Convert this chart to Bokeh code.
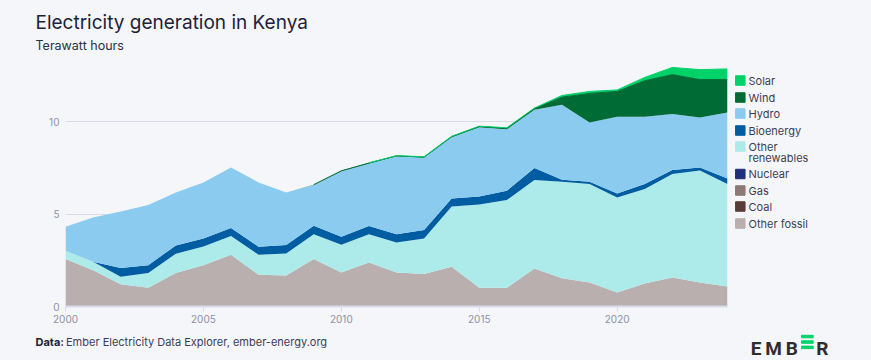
import math
from bokeh.plotting import figure
from bokeh.models import FixedTicker, ColumnDataSource, Range1d
from bokeh.layouts import column, row
from bokeh.core.properties import value
from bokeh.embed import file_html
from bokeh.resources import INLINE

years = list(range(2000, 2025))
other_fossil = [2.57, 1.97, 1.21, 1.01, 1.81, 2.24, 2.80, 1.72, 1.68, 2.57, 1.84, 2.39, 1.84,
                1.76, 2.15, 1.01, 1.01, 2.06, 1.53, 1.30, 0.76, 1.25, 1.57, 1.30, 1.08]
coal = [0.0] * 25
gas = [0.0] * 25
nuclear = [0.0] * 25
other_renewables = [0.45, 0.45, 0.40, 0.80, 1.05, 1.01, 1.02, 1.08, 1.19, 1.35, 1.50, 1.53, 1.63,
                    1.93, 3.27, 4.52, 4.76, 4.79, 5.23, 5.33, 5.15, 5.11, 5.61, 6.06, 5.55]
bioenergy = [0.0, 0.0, 0.47, 0.43, 0.45, 0.44, 0.43, 0.44, 0.46, 0.45, 0.44, 0.44, 0.45,
             0.45, 0.43, 0.43, 0.50, 0.65, 0.10, 0.13, 0.21, 0.27, 0.21, 0.17, 0.31]
hydro = [1.30, 2.40, 3.07, 3.26, 2.87, 3.03, 3.28, 3.48, 2.85, 2.21, 3.55, 3.39, 4.22,
         3.93, 3.32, 3.75, 3.33, 3.16, 4.07, 3.21, 4.16, 3.65, 3.04, 2.71, 3.57]
wind = [0.0, 0.0, 0.0, 0.0, 0.0, 0.0, 0.0, 0.0, 0.0, 0.02, 0.02, 0.02, 0.02,
        0.02, 0.03, 0.04, 0.05, 0.06, 0.41, 1.57, 1.37, 1.95, 2.13, 2.05, 1.78]
solar = [0.0, 0.0, 0.0, 0.0, 0.0, 0.0, 0.0, 0.0, 0.0, 0.0, 0.0, 0.01, 0.01,
         0.02, 0.02, 0.02, 0.03, 0.03, 0.09, 0.11, 0.08, 0.18, 0.39, 0.54, 0.58]

names = ["Other fossil", "Coal", "Gas", "Nuclear", "Other renewables", "Bioenergy", "Hydro", "Wind", "Solar"]
series = [other_fossil, coal, gas, nuclear, other_renewables, bioenergy, hydro, wind, solar]
colors = ["#B9AFAE", "#5A3D38", "#8C7A76", "#21307A", "#ADEBEA", "#005DA2", "#8ACBEF", "#006B35", "#00D26A"]

y_ticks = [0, 5, 10]
x_ticks = [2000, 2005, 2010, 2015, 2020]

title_text = "Electricity generation in Kenya"
subtitle_text = "Terawatt hours"
source_label = "Data:"
source_text = "Ember Electricity Data Explorer, ember-energy.org"

BG = "#F5F6FA"
TOTAL_W, TOTAL_H = 871, 360
HEAD_H, MID_H = 60, 272
FOOT_H = TOTAL_H - HEAD_H - MID_H
MAIN_W = 731
LEG_W = TOTAL_W - MAIN_W
B_TOP, B_BOT = 6, 26


def aux(w, h, xr, yr, top=0, bottom=0):
    # auxiliary figure whose ranges are page pixel coordinates (y downwards)
    f = figure(width=w, height=h, x_range=Range1d(*xr), y_range=Range1d(*yr),
               output_backend="svg", toolbar_location=None,
               min_border_left=0, min_border_right=0, min_border_top=top, min_border_bottom=bottom,
               x_axis_type=None, y_axis_type=None,
               background_fill_color=BG, border_fill_color=BG, outline_line_color=None)
    f.xgrid.visible = False
    f.ygrid.visible = False
    return f


def txt(f, x, y, s, size, color, font="Inter", style="normal", align="left", baseline="middle"):
    f.text(x=[x], y=[y], text=[s], text_font=value(font), text_font_size=value(size),
           text_color=color, text_font_style=style, text_align=align, text_baseline=baseline)


# ---------- header ----------
head = aux(TOTAL_W, HEAD_H, (0, TOTAL_W), (HEAD_H, 0))
txt(head, 35, 22, title_text, "19px", "#1E2238")
txt(head, 35, 45, subtitle_text, "12.5px", "#2B2F45")

# ---------- main chart ----------
data = {"year": years}
for n, s in zip(names, series):
    data[n] = s
src = ColumnDataSource(data)

p = figure(width=MAIN_W, height=MID_H, output_backend="svg", toolbar_location=None,
           x_range=Range1d(2000, 2024), y_range=Range1d(0, 13.0),
           min_border_left=65, min_border_right=4, min_border_top=B_TOP, min_border_bottom=B_BOT,
           background_fill_color=BG, border_fill_color=BG, outline_line_color=None)

p.varea_stack(stackers=names, x="year", color=colors, source=src)

# thin top edges of the small wind / solar layers
cum = [0.0] * len(years)
tops = []
for s in series:
    cum = [a + b for a, b in zip(cum, s)]
    tops.append(list(cum))
for idx in (7, 8):
    s = series[idx]
    yy = [tops[idx][i] if s[i] > 0 else math.nan for i in range(len(years))]
    p.line(years, yy, line_color=colors[idx], line_width=1)

p.xaxis.ticker = FixedTicker(ticks=x_ticks)
p.yaxis.ticker = FixedTicker(ticks=y_ticks)
p.xgrid.grid_line_color = None
p.ygrid.grid_line_color = "#D9DAEA"
p.ygrid.grid_line_width = 1
p.yaxis.axis_line_color = None
p.yaxis.major_tick_line_color = None
p.yaxis.minor_tick_line_color = None
p.yaxis.major_tick_out = 0
p.yaxis.major_tick_in = 0
p.xaxis.axis_line_color = "#D9DAEA"
p.xaxis.axis_line_width = 2
p.xaxis.major_tick_line_color = "#D9DAEA"
p.xaxis.major_tick_out = 5
p.xaxis.major_tick_in = 0
p.xaxis.minor_tick_line_color = None
for ax in (p.xaxis[0], p.yaxis[0]):
    ax.major_label_text_font = "Inter"
    ax.major_label_text_font_size = "10px"
    ax.major_label_text_color = "#8E90A8"
p.yaxis.major_label_standoff = 6
p.xaxis.major_label_standoff = 3

# ---------- legend ----------
frame_top = HEAD_H + B_TOP
frame_bot = HEAD_H + MID_H - B_BOT
leg = aux(LEG_W, MID_H, (MAIN_W, TOTAL_W), (frame_bot, frame_top), top=B_TOP, bottom=B_BOT)
leg_names = ["Solar", "Wind", "Hydro", "Bioenergy", "Other", "Nuclear", "Gas", "Coal", "Other fossil"]
leg_cols = [colors[8], colors[7], colors[6], colors[5], colors[4], colors[3], colors[2], colors[1], colors[0]]
leg_y = [80, 97, 113, 130, 146, 173.5, 190, 206, 223]
leg.rect(x=[739.8] * len(leg_y), y=leg_y, width=9.5, height=9.5, color=leg_cols)
leg.text(x=[748] * len(leg_y), y=leg_y, text=leg_names, text_font=value("Inter"),
         text_font_size=value("11px"), text_color="#3B3E55", text_baseline="middle")
txt(leg, 748, 157.5, "renewables", "11px", "#3B3E55")

# ---------- footer ----------
y0 = HEAD_H + MID_H
foot = aux(TOTAL_W, FOOT_H, (0, TOTAL_W), (TOTAL_H, y0))
txt(foot, 35, 341, source_label, "11px", "#1E2238", style="bold")
txt(foot, 65.5, 341, source_text, "11px", "#3B3E55")
for ch, cx in (("E", 755.5), ("M", 773), ("B", 791.2), ("R", 821.8)):
    txt(foot, cx, 348, ch, "19px", "#2D2D2D", font="Roboto", style="bold", align="center", baseline="alphabetic")
foot.quad(left=[801] * 3, right=[812.7] * 3, top=[334.8, 340.3, 345.6], bottom=[337.3, 342.8, 348.1], color="#00D26A")

layout = column(head, row(p, leg), foot)
html = file_html(layout, INLINE)
html = html.replace("<head>", "<head><style>html, body { background: %s; }</style>" % BG, 1)
open("out.html", "w").write(html)
